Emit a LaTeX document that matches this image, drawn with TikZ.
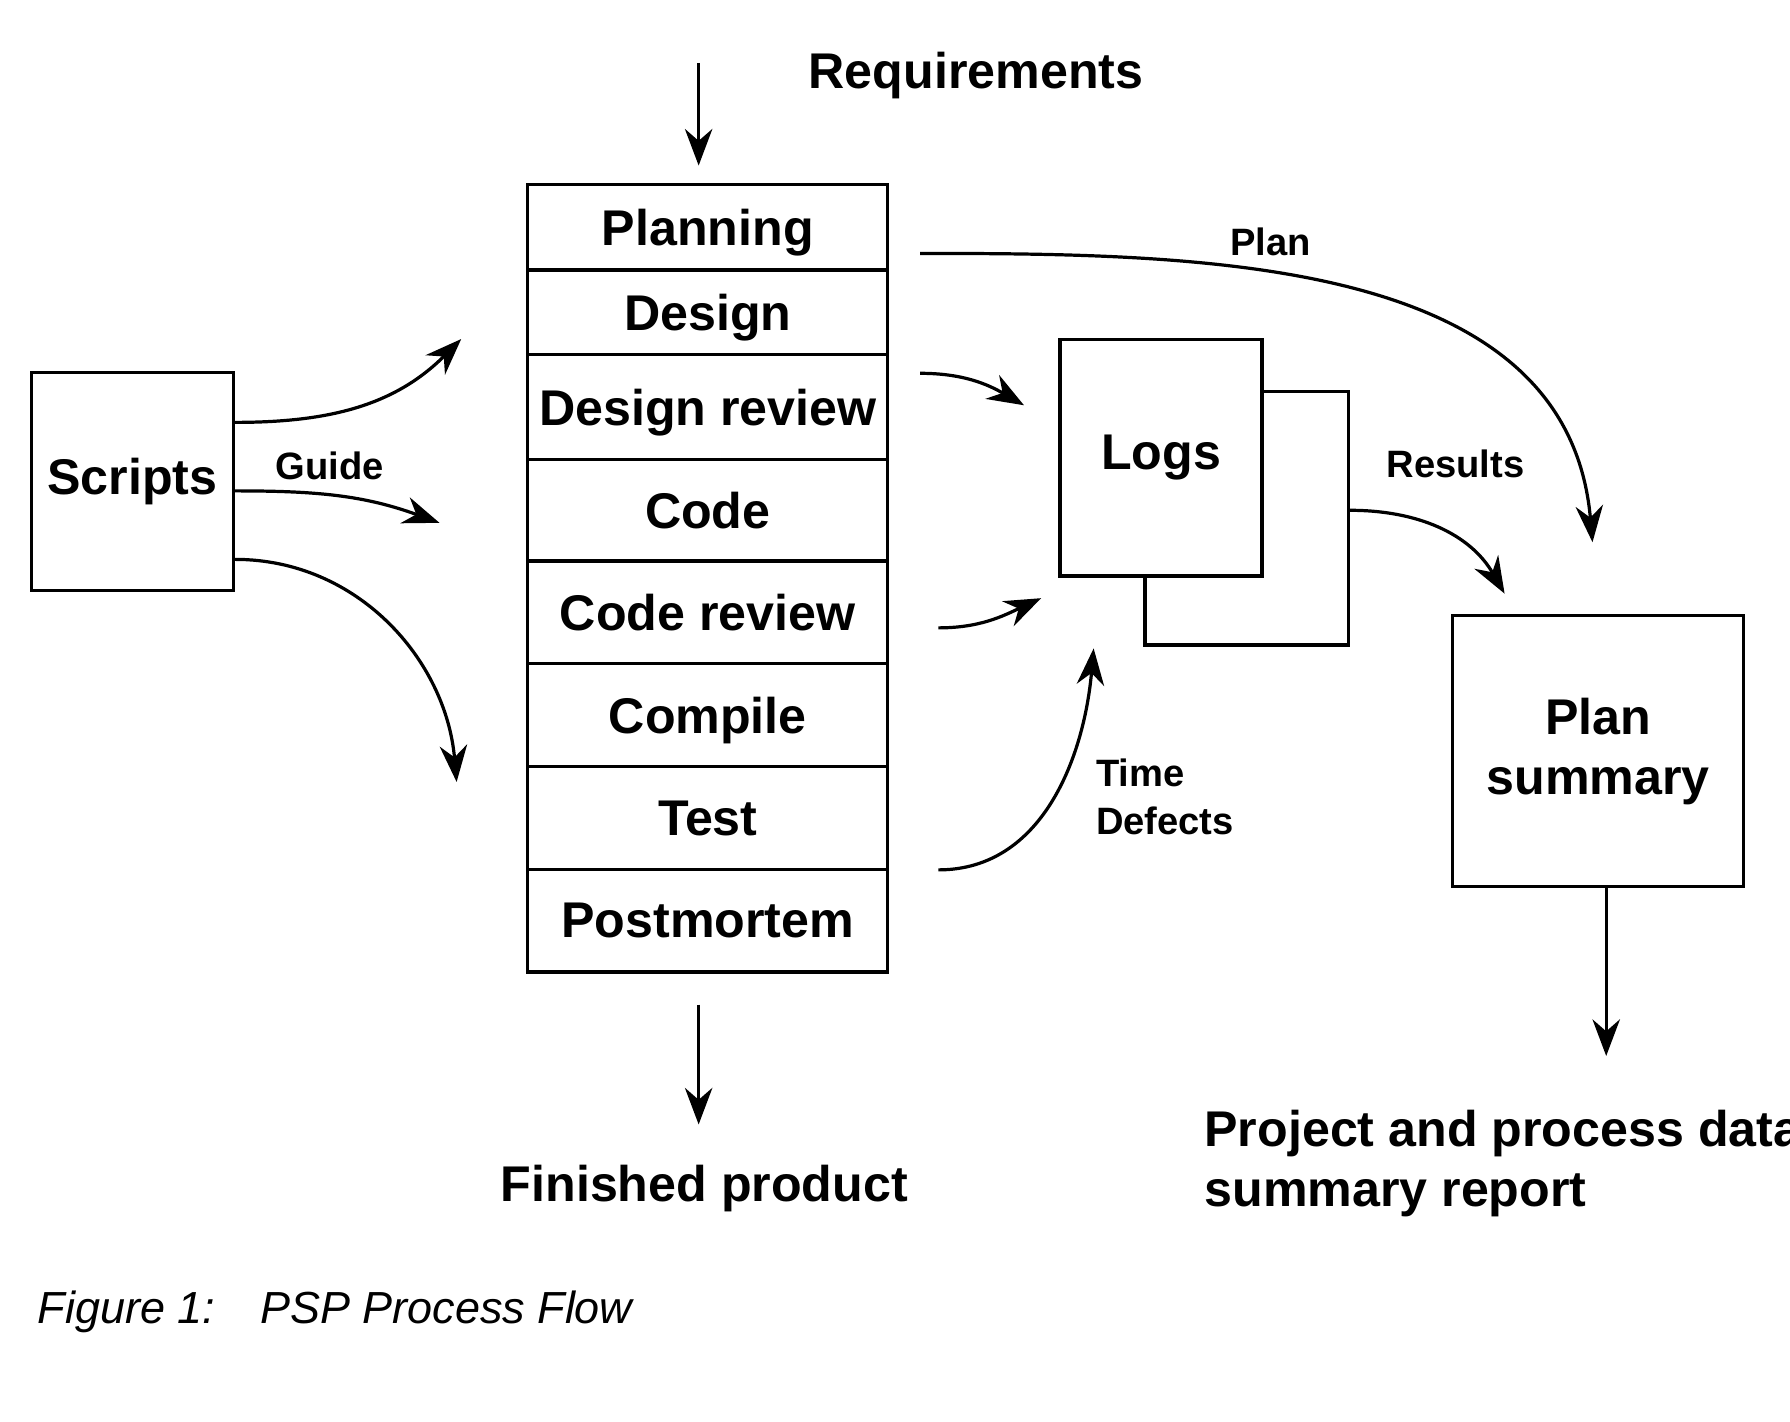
\documentclass[tikz,border=0pt]{standalone}
\usepackage{fontspec}
\setmainfont{Liberation Sans}
\usetikzlibrary{arrows.meta}
\usetikzlibrary{positioning}

\begin{document}
\begin{tikzpicture}[x=0.01cm,y=-0.01cm,
        ->,-{Stealth[length=3.2mm,width=2.4mm]},thick,
        stepNode/.style = {draw,thick,minimum width=3.15cm,anchor=north,inner sep=0pt,text depth=0pt,font=\fontsize{12.5}{15}\bfseries},
        boxNode/.style = {draw,thick,fill=white,inner sep=0pt,font=\fontsize{12.5}{15}\bfseries,align=center},
        bigLabel/.style = {font=\fontsize{12.5}{15}\bfseries},
        smallLabel/.style = {font=\fontsize{9.5}{12}\bfseries,align=left}
        ]
        \useasboundingbox (0,0) rectangle (1568,1245);
        % process steps
        \node[stepNode,minimum height=0.75cm] (plan) at (620,160) {Planning};
        \node[stepNode,minimum height=0.74cm] (design) at (620,235) {Design};
        \node[stepNode,minimum height=0.92cm] (dreview) at (620,309) {Design review};
        \node[stepNode,minimum height=0.89cm] (code) at (620,401) {Code};
        \node[stepNode,minimum height=0.90cm] (creview) at (620,490) {Code review};
        \node[stepNode,minimum height=0.90cm] (compile) at (620,580) {Compile};
        \node[stepNode,minimum height=0.90cm] (test) at (620,670) {Test};
        \node[stepNode,minimum height=0.90cm] (post) at (620,760) {Postmortem};
        % scripts, logs, summary
        \node[boxNode,minimum width=1.77cm,minimum height=1.91cm] (scripts) at (116,422) {Scripts};
        \node[draw,thick,minimum width=1.78cm,minimum height=2.22cm] (logsback) at (1092,454) {};
        \node[boxNode,minimum width=1.77cm,minimum height=2.07cm] (logs) at (1017,401) {Logs};
        \node[boxNode,minimum width=2.55cm,minimum height=2.37cm] (summary) at (1400,658) {Plan\\summary};
        % labels
        \node[bigLabel] (req) at (855,66) {Requirements};
        \node[bigLabel] (product) at (617,1041) {Finished product};
        \node[bigLabel,anchor=west,align=left] (report) at (1042,1019) {Project and process data\\summary report};
        \node[anchor=west,font=\fontsize{11.2}{14}\itshape] (caption) at (20,1149) {Figure 1:\hspace{1em}PSP Process Flow};
        \coordinate (reqend) at (612,55);
        \coordinate (prodtop) at (612,880);
        \coordinate (reptop) at (1407,925);
        \draw (reqend) -- ++(0,90);
        \draw (prodtop) -- ++(0,105);
        \draw (summary.south -| reptop) -- (reptop);
        % guide arrows
        \draw (scripts.east |- 0,370) to[out=0,in=225] (404,297);
        \draw (scripts.east |- 0,430) to[out=0,in=160] node[smallLabel,above,pos=0.45] {Guide} (385,458);
        \draw (scripts.east |- 0,490) to[out=0,in=95] (400,685);
        % data arrows
        \draw (806,327) to[out=0,in=150] (897,355);
        \draw (822,550) to[out=0,in=205] (912,524);
        \draw (822,762) to[out=0,in=265] (958,568);
        \node[smallLabel,anchor=west] (timedef) at (947,698) {Time\\Defects};
        \draw (806,222) to[out=0,in=95] (1395,475);
        \node[smallLabel] (planlabel) at (1113,212) {Plan};
        \draw (logsback.east |- 0,447) to[out=0,in=120] (1318,520);
        \node[smallLabel] (results) at (1275,406) {Results};
\end{tikzpicture}
\end{document}
